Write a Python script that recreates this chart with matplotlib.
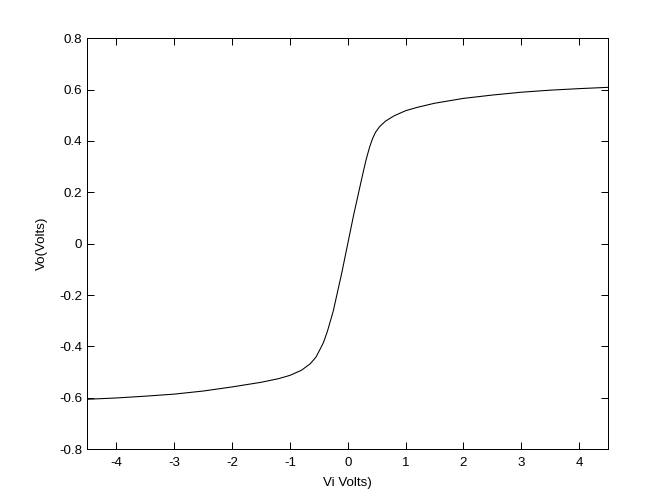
import matplotlib
matplotlib.use("Agg")
import matplotlib.pyplot as plt

vi = [-4.5, -4.0, -3.5, -3.0, -2.5, -2.0, -1.5, -1.2, -1.0, -0.8, -0.65, -0.55, -0.48, -0.42,
      -0.35, -0.25, -0.1, 0.0, 0.1, 0.25, 0.32, 0.38, 0.43, 0.48, 0.55, 0.65, 0.8, 1.0, 1.2, 1.5,
      2.0, 2.5, 3.0, 3.5, 4.0, 4.5]
vo = [-0.606, -0.601, -0.594, -0.586, -0.574, -0.558, -0.540, -0.526, -0.513, -0.493, -0.468,
      -0.442, -0.412, -0.385, -0.340, -0.262, -0.110, 0.0, 0.110, 0.262, 0.330, 0.378, 0.410,
      0.434, 0.456, 0.477, 0.498, 0.518, 0.531, 0.547, 0.566, 0.579, 0.590, 0.598, 0.604, 0.609]

xticks = [-4, -3, -2, -1, 0, 1, 2, 3, 4]
yticks = [-0.8, -0.6, -0.4, -0.2, 0, 0.2, 0.4, 0.6, 0.8]
ytick_labels = ["-0.8", "-0.6", "-0.4", "-0.2", "0", "0.2", "0.4", "0.6", "0.8"]

plt.rcParams['font.family'] = ['Liberation Sans', 'DejaVu Sans']
fig = plt.figure(figsize=(7, 5.25), dpi=96)
ax = fig.add_axes([0.13, 0.109, 0.775, 0.815])
ax.plot(vi, vo, color='black', linewidth=0.8)
ax.set_xlim(-4.5, 4.5)
ax.set_ylim(-0.8, 0.8)
ax.set_xticks(xticks)
ax.set_xticklabels([str(t) for t in xticks])
ax.set_yticks(yticks)
ax.set_yticklabels(ytick_labels)
ax.tick_params(direction='in', length=5, width=0.75, labelsize=10, top=True, right=True)
ax.tick_params(axis='x', pad=6)
ax.tick_params(axis='y', pad=4)
for s in ax.spines.values():
    s.set_linewidth(0.75)
ax.set_xlabel("Vi Volts)", fontsize=10, labelpad=6)
ax.set_ylabel("Vo(Volts)", fontsize=10, labelpad=8)
fig.savefig("out.png", dpi=96)
